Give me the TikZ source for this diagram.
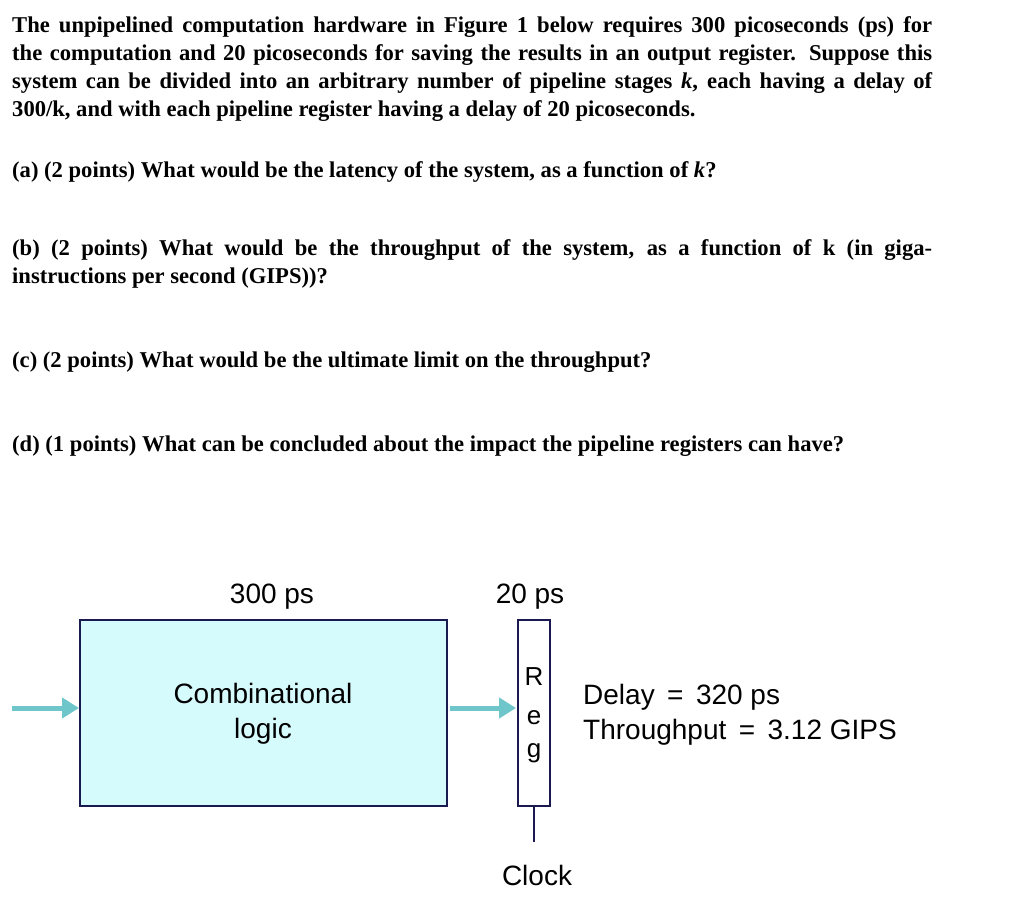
\documentclass[tikz,border=0pt]{standalone}
\usepackage{fontspec}
\setmainfont{Liberation Serif}
\setsansfont{Liberation Sans}
\usetikzlibrary{arrows.meta}
\definecolor{boxfill}{HTML}{D6FBFD}
\definecolor{boxline}{HTML}{1A1A50}
\definecolor{arr}{HTML}{6EC6CA}
\tikzset{
 q/.style={anchor=west,font=\bfseries\fontsize{22.6}{28}\selectfont,inner sep=0pt},
 sf/.style={font=\sffamily\fontsize{28}{35}\selectfont,inner sep=0pt},
 rg/.style={font=\sffamily\fontsize{26}{28}\selectfont,inner sep=0pt},
 flow/.style={arr,line width=5pt,-{Triangle[length=17pt,width=20pt]}}
}
\begin{document}
\begin{tikzpicture}[x=1pt,y=-1pt]
\useasboundingbox[fill=white] (0,0) rectangle (1024,907);
\node[q,anchor=north west,text width=920pt,align=justify] (intro) at (12,16) {\hyphenpenalty=10000 The unpipelined computation hardware in Figure 1 below requires 300 picoseconds (ps) for\linebreak the computation and 20 picoseconds for saving the results in an output register. Suppose this\linebreak system can be divided into an arbitrary number of pipeline stages \textit{k}, each having a delay of\linebreak 300/k, and with each pipeline register having a delay of 20 picoseconds.};
\node[q] (qa) at (12,172) {(a) (2 points) What would be the latency of the system, as a function of \textit{k}?};
\node[q,anchor=north west,text width=920pt,align=justify] (qb) at (12,239) {(b) (2 points) What would be the throughput of the system, as a function of k (in giga-\linebreak instructions per second (GIPS))?};
\node[q] (qc) at (12,362) {(c) (2 points) What would be the ultimate limit on the throughput?};
\node[q] (qd) at (12,446) {(d) (1 points) What can be concluded about the impact the pipeline registers can have?};
\draw[boxline,fill=boxfill,line width=1.2pt] (80,620) rectangle (447,806);
\node[sf,align=center] (comb) at (263,714) {Combinational\\logic};
\node[sf] (t300) at (272,597) {300 ps};
\node[sf] (t20) at (530,597) {20 ps};
\draw[boxline,line width=1.2pt] (518,620) rectangle (550,806);
\node[rg] (r1) at (534,677) {R};
\node[rg] (r2) at (534,718) {e};
\node[rg] (r3) at (534,753) {g};
\coordinate (c1) at (534,806);
\coordinate (c2) at (534,842);
\draw[boxline,line width=1.2pt] (c1) -- (c2);
\node[sf] (clk) at (537,875) {Clock};
\coordinate (a1) at (12,708); \coordinate (a2) at (79,708);
\coordinate (b1) at (450,708); \coordinate (b2) at (516,708);
\draw[flow] (a1) -- (a2);
\draw[flow] (b1) -- (b2);
\node[sf,anchor=west] (d1) at (583,697) {Delay \,=\, 320 ps};
\node[sf,anchor=west] (d2) at (583,732) {Throughput \,=\, 3.12 GIPS};
\end{tikzpicture}
\end{document}
